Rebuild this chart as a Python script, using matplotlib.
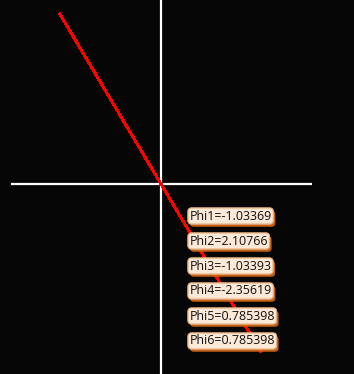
import numpy as np
import matplotlib
matplotlib.use("Agg")
import matplotlib.pyplot as plt
import matplotlib.patheffects as pe

labels = ["Phi1", "Phi2", "Phi3", "Phi4", "Phi5", "Phi6"]
phis = [-1.03369, 2.10766, -1.03393, -2.35619, 0.785398, 0.785398]
value_text = ["-1.03369", "2.10766", "-1.03393", "-2.35619", "0.785398", "0.785398"]

fig = plt.figure(figsize=(3.54, 3.74), dpi=100)
fig.patch.set_facecolor("#060606")
ax = fig.add_axes([0, 0, 1, 1])
ax.set_facecolor("#060606")
ax.set_xlim(-161, 193)
ax.set_ylim(-190, 184)
ax.set_aspect("equal")
ax.axis("off")

# axes lines
ax.plot([-150, 151], [0, 0], color="white", lw=1.6, solid_capstyle="butt")
ax.axvline(0, color="white", lw=1.6)

# direction line at angle phi2
ang = phis[1]
t = np.array([199, -196])
ax.plot(t * np.cos(ang), t * np.sin(ang), color="#ff0000", lw=1.4,
        antialiased=False, solid_capstyle="butt")

for i, (lab, vt) in enumerate(zip(labels, value_text)):
    txt = ax.text(28.5, -32 - 25 * i, f"{lab}={vt}", fontsize=8.9,
                  family=["Open Sans", "DejaVu Sans"], color="#111111",
                  va="center", ha="left",
                  bbox=dict(boxstyle="round,pad=0.12,rounding_size=0.3",
                            fc="#fde9d7", ec="#e8b080", lw=0.8))
    txt.get_bbox_patch().set_path_effects([
        pe.withSimplePatchShadow(offset=(1.5, -2), shadow_rgbFace="#d86a18", alpha=0.9),
        pe.Normal()])

fig.savefig("out.png", dpi=100, facecolor=fig.get_facecolor())
